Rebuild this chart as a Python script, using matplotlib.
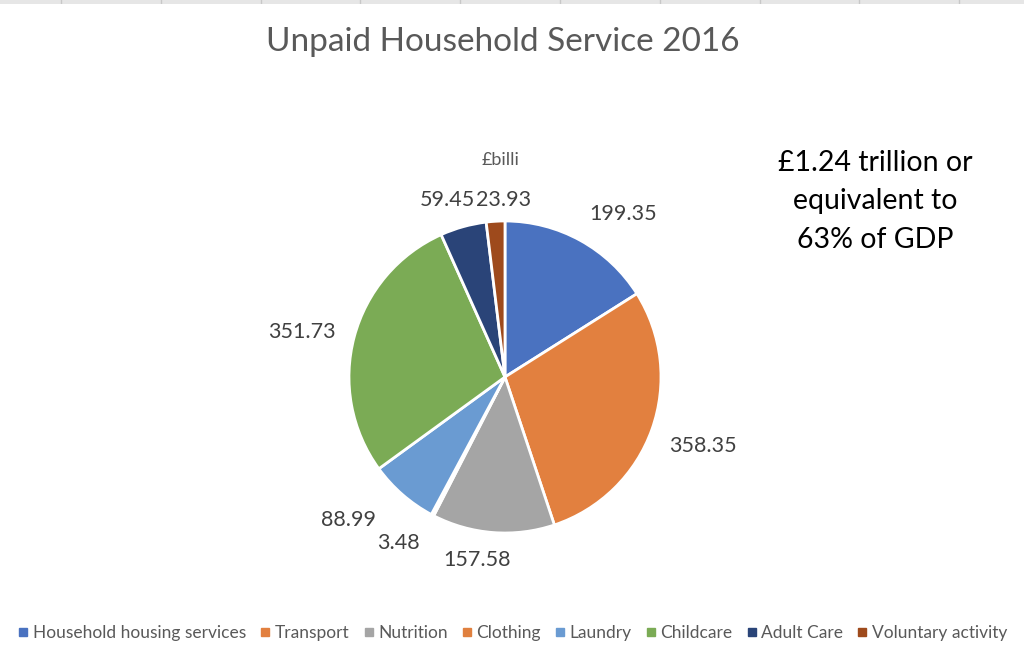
import numpy as np
import matplotlib
matplotlib.use("Agg")
import matplotlib.pyplot as plt

plt.rcParams["font.family"] = ["Lato", "DejaVu Sans"]

categories = ["Household housing services", "Transport", "Nutrition", "Clothing",
              "Laundry", "Childcare", "Adult Care", "Voluntary activity"]
values = [199.35, 358.35, 157.58, 3.48, 88.99, 351.73, 59.45, 23.93]
colors = ["#4A72C0", "#E2803F", "#A5A5A5", "#E0803F",
          "#6A9BD2", "#7BAB55", "#2A4478", "#9E4A1C"]

fig = plt.figure(figsize=(10.24, 6.66), dpi=100)

# spreadsheet-style strip along the top
top = fig.add_axes([0, 0.994, 1, 0.006])
top.set_facecolor("#e6e6e6")
top.set_xlim(0, 1024)
top.set_xticks([])
top.set_yticks([])
for s in top.spines.values():
    s.set_visible(False)
for xt in np.arange(61, 1024, 99.8):
    top.axvline(xt, color="#c8c8c8", lw=1)

fig.text(0.491, 0.937, "Unpaid Household Service 2016", ha="center", va="center",
         fontsize=24, color="#595959")

ax = fig.add_axes([0.3408, 0.1997, 0.3047, 0.4685])
wedges, _ = ax.pie(values, colors=colors, startangle=90, counterclock=False,
                   radius=1.0, wedgeprops=dict(edgecolor="white", linewidth=2))
ax.set_xlim(-1, 1)
ax.set_ylim(-1, 1)
ax.axis("off")

# outside-end data labels; crowded ones get hand-placed spots
placed = {2: (-0.18, -1.17, "center", "center"),
          3: (-0.545, -1.065, "right", "center"),
          4: (-0.83, -0.915, "right", "center"),
          6: (-0.19, 1.135, "right", "center"),
          7: (-0.185, 1.135, "left", "center")}
for i, w in enumerate(wedges):
    if i in placed:
        x, y, ha, va = placed[i]
    else:
        ang = np.deg2rad((w.theta1 + w.theta2) / 2)
        cx, cy = np.cos(ang), np.sin(ang)
        x, y = 1.12 * cx, 1.12 * cy
        ha = "left" if cx > 0.1 else ("right" if cx < -0.1 else "center")
        va = "bottom" if cy > 0.3 else ("top" if cy < -0.3 else "center")
    ax.text(x, y, f"{values[i]:.2f}", ha=ha, va=va, fontsize=15.5, color="#404040")

ax.text(-0.03, 1.39, "£billi", ha="center", va="center", fontsize=13, color="#595959")

fig.text(0.855, 0.698, "£1.24 trillion or\nequivalent to\n63% of GDP", ha="center",
         va="center", fontsize=20.5, color="#000000", linespacing=1.6)

handles = [plt.Line2D([], [], marker="s", ls="", color=c, markersize=6) for c in colors]
fig.legend(handles, categories, loc="center", bbox_to_anchor=(0.499, 0.05), ncol=8,
           frameon=False, fontsize=12.5, handletextpad=0.05, columnspacing=0.6,
           handlelength=1.0, labelcolor="#595959")

fig.savefig("out.png", dpi=100)
